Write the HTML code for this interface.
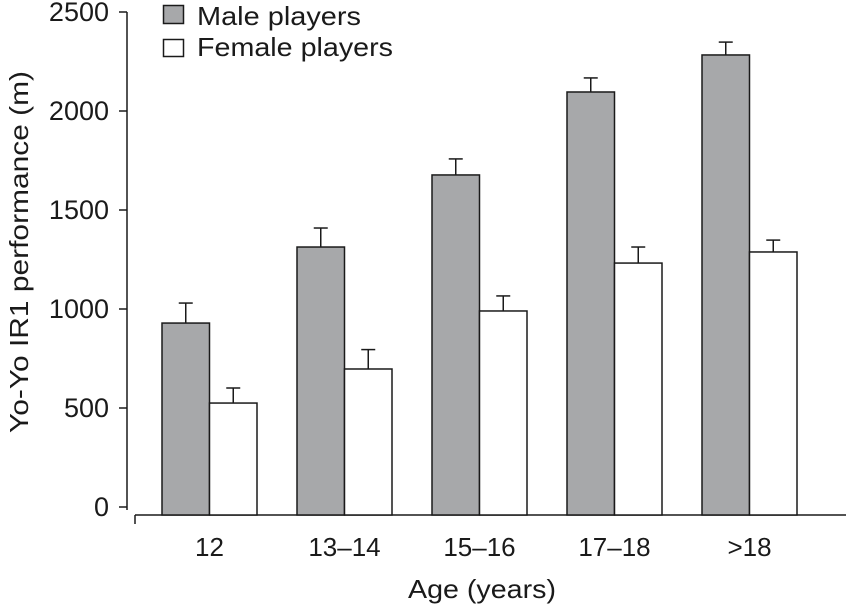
<!DOCTYPE html>
<html><head><meta charset="utf-8"><style>
body{margin:0;background:#fff;}
svg text{font-family:"Liberation Sans",Arial,sans-serif;fill:#1a1a1a;}
</style></head><body>
<svg id="chart" width="846" height="606" viewBox="0 0 846 606">
<g id="axes"></g>
<g id="bars"></g>
<g id="legend">
<rect x="163.5" y="5.5" width="20" height="18" fill="#a7a8aa" stroke="#1a1a1a" stroke-width="1.5"/>
<text x="197" y="25" font-size="26" textLength="164" lengthAdjust="spacingAndGlyphs">Male players</text>
<rect x="163.5" y="39.5" width="20" height="17" fill="#fff" stroke="#1a1a1a" stroke-width="1.5"/>
<text x="197" y="56" font-size="26" textLength="196" lengthAdjust="spacingAndGlyphs">Female players</text>
</g>
<text x="0" y="0" font-size="26" text-anchor="middle" textLength="362" lengthAdjust="spacingAndGlyphs" transform="translate(28 252) rotate(-90)">Yo-Yo IR1 performance (m)</text>
<text x="482" y="598" font-size="26" text-anchor="middle" textLength="148" lengthAdjust="spacingAndGlyphs">Age (years)</text>
</svg>
<script>
const categories=["12","13–14","15–16","17–18",">18"];
const maleValues=[929,1313,1677,2096,2283];
const maleErrors=[101,96,81,71,65];
const femaleValues=[525,697,990,1232,1288];
const femaleErrors=[76,98,76,81,60];
const yTicks=[0,500,1000,1500,2000,2500];

const NS="http://www.w3.org/2000/svg";
const y0=507, pxPer=0.198, axisY=515;
function yScale(v){return y0-v*pxPer;}
function xGroup(i){return 162+i*135;}
const barW=47.5;
function mk(tag,attrs,parent){const e=document.createElementNS(NS,tag);for(const k in attrs)e.setAttribute(k,attrs[k]);parent.appendChild(e);return e;}
const axes=document.getElementById('axes'), bars=document.getElementById('bars');
let yl=mk('line',{x1:127,y1:yScale(2500),x2:127,y2:y0+3,stroke:'#1a1a1a','stroke-width':1.5},axes);


yTicks.forEach(t=>{
 const y=yScale(t);
 const tk=mk('line',{x1:119,y1:y,x2:127,y2:y,stroke:'#1a1a1a','stroke-width':1.5},axes);
 
 
 const tx=mk('text',{x:109,y:y+9,'font-size':27,'text-anchor':'end'},axes);
 tx.textContent=t;
 
 
});
let xl=mk('line',{x1:135,y1:axisY,x2:846,y2:axisY,stroke:'#1a1a1a','stroke-width':1.5},axes);


let xt=mk('line',{x1:135,y1:axisY,x2:135,y2:524,stroke:'#1a1a1a','stroke-width':1.5},axes);


categories.forEach((c,i)=>{
 const gx=xGroup(i);
 const tx=mk('text',{x:gx+barW,y:556,'font-size':26,'text-anchor':'middle'},axes);
 tx.textContent=c;
 
 
 [[maleValues[i],maleErrors[i],'#a7a8aa',gx,'male'],[femaleValues[i],femaleErrors[i],'#fff',gx+barW,'female']].forEach(([v,e,f,x,s])=>{
  const top=yScale(v), et=yScale(v+e), cx=x+barW/2;
  const er=mk('line',{x1:cx,y1:top,x2:cx,y2:et,stroke:'#1a1a1a','stroke-width':1.5},bars);
  
  
  const cap=mk('line',{x1:cx-7,y1:et,x2:cx+7,y2:et,stroke:'#1a1a1a','stroke-width':1.5},bars);
  
  
  const r=mk('rect',{x:x,y:top,width:barW,height:axisY-top,fill:f,stroke:'#1a1a1a','stroke-width':1.5},bars);
  
  
 });
});
</script>
</body></html>
